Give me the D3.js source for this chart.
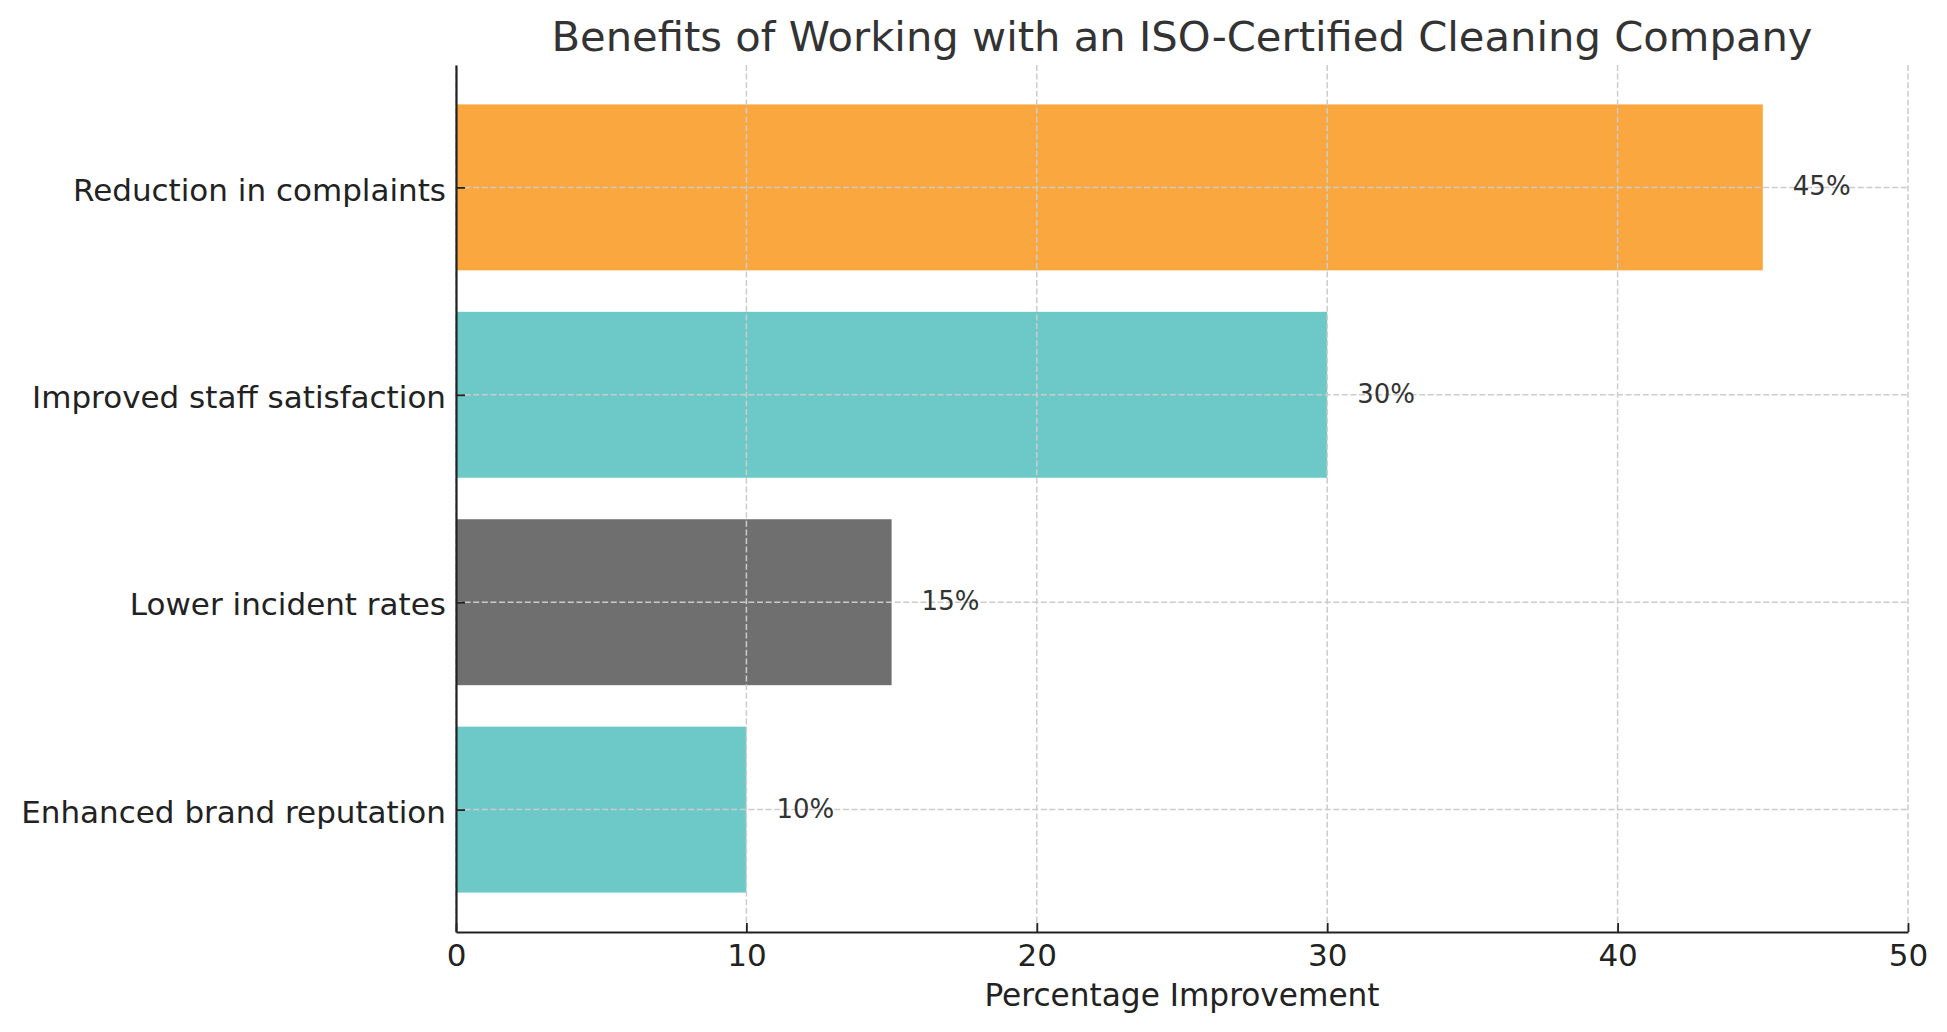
<!DOCTYPE html>
<html lang="en">
  <head>
    <meta charset="UTF-8" />
    <title>ISO-Certified Cleaning Benefits</title>
    <script src="https://cdn.jsdelivr.net/npm/d3@7"></script>
    <style>
      body {
        margin: 0;
        background: #fff;
      }

      text {
        font-family: "DejaVu Sans", sans-serif;
      }

      .grid-line {
        stroke: #cccccc;
        stroke-width: 1.5px;
        stroke-dasharray: 6,2.6;
      }

      .axis path,
      .axis line {
        stroke: #222;
      }
    </style>
  </head>
  <body>
    <script>

      // data, bottom to top as drawn
      var categories = ["Enhanced brand reputation", "Lower incident rates", "Improved staff satisfaction", "Reduction in complaints"];
      var values = [10, 15, 30, 45];
      var barColors = ["#6dc9c7", "#6f6f6f", "#6dc9c7", "#f9a73e"];
      var xTicks = [0, 10, 20, 30, 40, 50];

      var w = 1947,
          h = 1032;

      var margin = {
        top: 65,
        right: 39,
        bottom: 100,
        left: 456
      };

      var innerW = w - margin.left - margin.right,
          innerH = h - margin.top - margin.bottom;

      var svg = d3.select("body").append("svg")
        .attr("width", w)
        .attr("height", h);

      var xScale = d3.scaleLinear()
        .domain([0, 50])
        .range([0, innerW]);

      // matplotlib-style category axis: bars of height 0.8, 5% padding
      var yScale = d3.scaleLinear()
        .domain([-0.59, 3.59])
        .range([innerH, 0]);

      var g = svg.append("g")
        .attr("transform", "translate(" + margin.left + "," + margin.top + ")");

      var rows = categories.map(function(c, i) {
        return { name: c, value: values[i], color: barColors[i], idx: i };
      });

      // bars
      g.selectAll("rect.bar")
        .data(rows)
        .enter()
        .append("rect")
        .attr("class", "bar")
        .attr("x", 0)
        .attr("y", function(d) { return yScale(d.idx + 0.4); })
        .attr("width", function(d) { return xScale(d.value); })
        .attr("height", yScale(0) - yScale(0.8))
        .attr("fill", function(d) { return d.color; });

      // grid on top of bars
      g.selectAll("line.vgrid")
        .data(xTicks)
        .enter()
        .append("line")
        .attr("class", "grid-line")
        .attr("x1", function(d) { return xScale(d); })
        .attr("x2", function(d) { return xScale(d); })
        .attr("y1", 0)
        .attr("y2", innerH);

      g.selectAll("line.hgrid")
        .data(rows)
        .enter()
        .append("line")
        .attr("class", "grid-line")
        .attr("x1", 0)
        .attr("x2", innerW)
        .attr("y1", function(d) { return yScale(d.idx); })
        .attr("y2", function(d) { return yScale(d.idx); });

      // value labels
      g.selectAll("text.val")
        .data(rows)
        .enter()
        .append("text")
        .attr("class", "val")
        .attr("x", function(d) { return xScale(d.value) + 30; })
        .attr("y", function(d) { return yScale(d.idx); })
        .attr("dy", "0.31em")
        .attr("font-size", "26px")
        .attr("fill", "#333")
        .text(function(d) { return d.value + "%"; });

      // axes
      var xAxis = d3.axisBottom(xScale)
        .tickValues(xTicks)
        .tickSizeInner(-9)
        .tickSizeOuter(0)
        .tickPadding(12);

      var yAxis = d3.axisLeft(yScale)
        .tickValues(rows.map(function(d) { return d.idx; }))
        .tickFormat(function(i) { return categories[i]; })
        .tickSizeInner(-9)
        .tickSizeOuter(0)
        .tickPadding(10);

      var gx = g.append("g")
        .attr("class", "axis")
        .attr("transform", "translate(0," + innerH + ")")
        .call(xAxis);

      var gy = g.append("g")
        .attr("class", "axis")
        .call(yAxis);

      gx.select(".domain").attr("stroke-width", 2.2);
      gy.select(".domain").attr("stroke-width", 2.2);
      gx.selectAll(".tick line").attr("stroke-width", 1.8);
      gy.selectAll(".tick line").attr("stroke-width", 1.8);

      gx.selectAll(".tick text")
        .attr("font-size", "31px")
        .attr("fill", "#222")
        .attr("font-family", "DejaVu Sans");

      gy.selectAll(".tick text")
        .attr("font-size", "31px")
        .attr("dy", "0.41em")
        .attr("fill", "#222")
        .attr("font-family", "DejaVu Sans");

      // axis label
      svg.append("text")
        .attr("x", margin.left + innerW / 2)
        .attr("y", 1006)
        .attr("text-anchor", "middle")
        .attr("font-size", "31.2px")
        .attr("fill", "#222")
        .text("Percentage Improvement");

      // title
      svg.append("text")
        .attr("x", margin.left + innerW / 2)
        .attr("y", 51)
        .attr("text-anchor", "middle")
        .attr("font-size", "41.7px")
        .attr("fill", "#333")
        .text("Benefits of Working with an ISO-Certified Cleaning Company");

    </script>
  </body>
</html>
